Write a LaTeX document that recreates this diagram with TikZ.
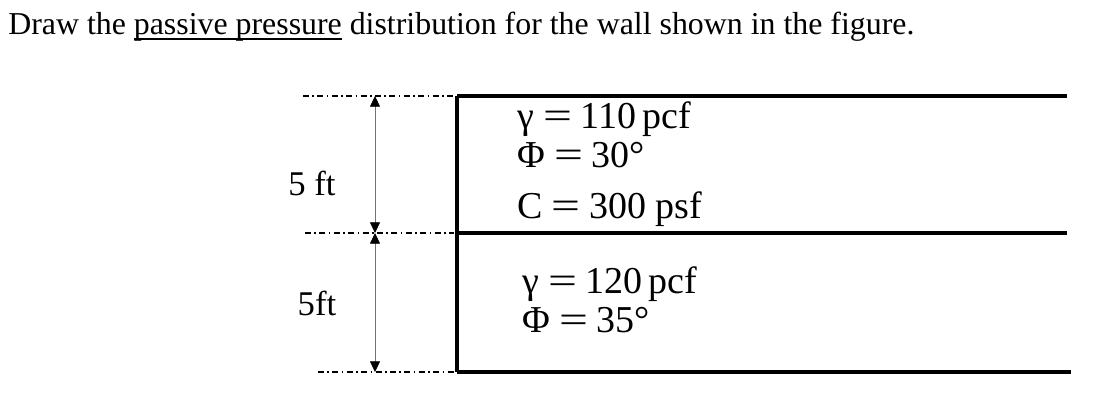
\documentclass[tikz,border=0pt]{standalone}
\usepackage{graphicx}
\usepackage{fontspec}
\setmainfont{Liberation Serif}
\usetikzlibrary{arrows.meta}
\newcommand\myul[1]{\setbox0\hbox{#1}\rlap{\rule[-3.8pt]{\wd0}{1.4pt}}\box0\relax}
\newcommand\eqsgn{\hspace{0.24em}\scalebox{1.35}[1]{=}\hspace{0.22em}}
\begin{document}
\begin{tikzpicture}[x=0.75pt,y=-0.75pt,
  soilline/.style={line width=2.3pt},
  refline/.style={line width=1.3pt, dash pattern=on 4.5pt off 2.5pt on 1.3pt off 2.5pt},
  dimline/.style={line width=0.6pt, draw=black!55,
     {Triangle[length=8pt,width=7.5pt,fill=black,color=black]}-{Triangle[length=8pt,width=7.5pt,fill=black,color=black]}},
  prop/.style={anchor=base west, inner sep=0pt, font=\fontsize{28.5}{31}\selectfont},
  dimlabel/.style={anchor=base, inner sep=0pt, font=\fontsize{26}{30}\selectfont},
  title/.style={anchor=base west, inner sep=0pt, font=\fontsize{23.9}{28}\selectfont}
]
\useasboundingbox (0,0) rectangle (1114,403);
\node[title] (q) at (8,35) {Draw the \myul{passive pressure} distribution for the wall shown in the figure.};

% wall and layer boundaries
\coordinate (wt) at (457,96);
\coordinate (wm) at (457,233);
\coordinate (wb) at (457,372);
\coordinate (rt) at (1067,96);
\coordinate (rm) at (1067,233);
\coordinate (rb) at (1071,372);
\draw[soilline] (wt) -- (wb);
\draw[soilline] (wt) -- (rt);
\draw[soilline] (wm) -- (rm);
\draw[soilline] (wb) -- (rb);

% reference dash-dot lines
\coordinate (lt) at (303,96);
\coordinate (lm) at (305,233);
\coordinate (lb) at (318,372);
\draw[refline] (lt) -- ([xshift=-2pt]wt);
\draw[refline] (lm) -- ([xshift=-2pt]wm);
\draw[refline] (lb) -- ([xshift=-2pt]wb);

% dimension arrows
\coordinate (dt) at (375,96);
\coordinate (dm) at (375,233);
\coordinate (db) at (375,372);
\draw[dimline] (dt) -- (dm);
\draw[dimline] (dm) -- (db);
\node[dimlabel] (h1) at (312,195) {5 ft};
\node[dimlabel] (h2) at (317,315) {5ft};

% soil properties
\node[prop] (g1) at (517,128) {γ\eqsgn 110\,pcf};
\node[prop] (f1) at (517,167) {Φ\eqsgn 30°};
\node[prop] (c1) at (517,218) {C\eqsgn 300 psf};
\node[prop] (g2) at (522,293) {γ\eqsgn 120\,pcf};
\node[prop] (f2) at (522,332) {Φ\eqsgn 35°};
\end{tikzpicture}
\end{document}
